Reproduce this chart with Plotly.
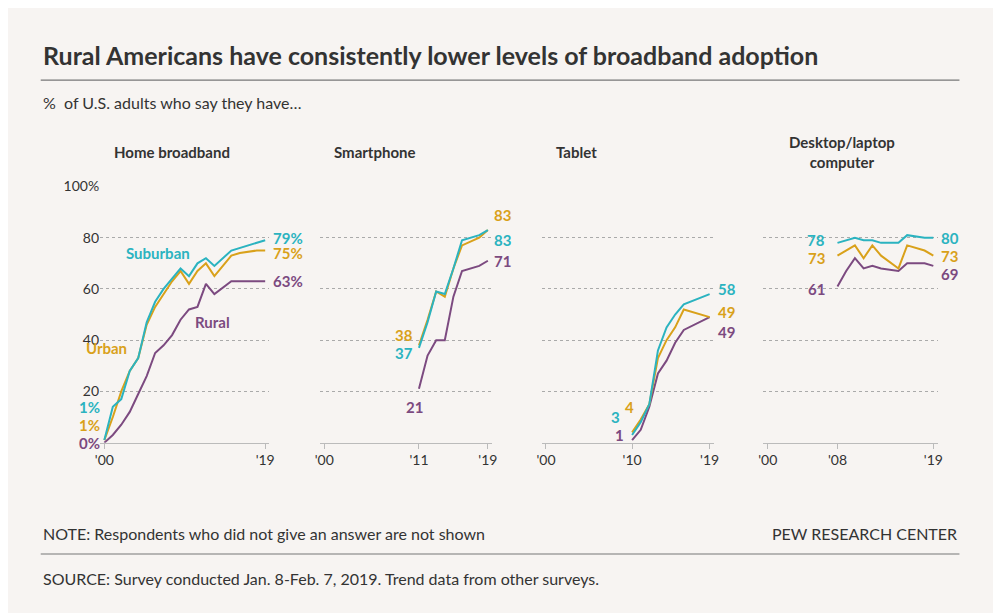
import plotly.graph_objects as go

W, H = 1001, 613
OX, OY = -8, -8  # page offset compensation
SUB, URB, RUR = "#2bb3c0", "#d9a11a", "#7c4a80"

bb_years = [2000,2001,2002,2003,2004,2005,2006,2007,2008,2009,2010,2011,2012,2013,2015,2016,2018,2019]
bb_sub = [1,14,17,28,33,47,55,60,64,68,65,70,72,69,75,76,78,79]
bb_urb = [1,10,20,28,33,46,53,58,63,67,62,67,70,65,73,74,75,75]
bb_rur = [0,3,7,12,19,26,35,38,42,48,52,53,62,58,63,63,63,63]

sp_years = [2011,2012,2013,2014,2015,2016,2018,2019]
sp_sub = [37,47,59,58,68,79,81,83]
sp_urb = [38,48,59,57,68,77,80,83]
sp_rur = [21,34,40,40,57,67,69,71]

tb_years = [2010,2011,2012,2013,2014,2015,2016,2019]
tb_sub = [3,8,15,36,45,50,54,58]
tb_urb = [4,9,15,33,40,45,52,49]
tb_rur = [1,5,14,27,32,39,44,49]

dl_years = [2008,2009,2010,2011,2012,2013,2015,2016,2018,2019]
dl_sub = [78,79,80,79,79,78,78,81,80,80]
dl_urb = [73,75,77,72,77,73,68,77,75,73]
dl_rur = [61,67,72,68,69,68,67,70,70,69]

panels = [
    ("Home broadband", bb_years, bb_sub, bb_urb, bb_rur, ["'00", "'19"], [2000, 2019], 100, 263),
    ("Smartphone", sp_years, sp_sub, sp_urb, sp_rur, ["'00", "'11", "'19"], [2000, 2011, 2019], 322, 488),
    ("Tablet", tb_years, tb_sub, tb_urb, tb_rur, ["'00", "'10", "'19"], [2000, 2010, 2019], 546, 712),
    ("Desktop/laptop<br>computer", dl_years, dl_sub, dl_urb, dl_rur, ["'00", "'08", "'19"], [2000, 2008, 2019], 770, 938),
]

def px(x): return (x + OX) / W
def py(y): return (H - (y + OY)) / H

fig = go.Figure()
FONT = "Lato"
anns, shapes = [], []
for i, (name, yrs, s, u, r, tt, tv, px0, px1) in enumerate(panels):
    n = "" if i == 0 else str(i+1)
    xa, ya = "x"+n, "y"+n
    for vals, c in [(r, RUR), (u, URB), (s, SUB)]:
        fig.add_trace(go.Scatter(x=yrs, y=vals, mode="lines", line=dict(color=c, width=2),
                                 xaxis=xa, yaxis=ya, showlegend=False, hoverinfo="skip"))
    fig.layout["xaxis"+n] = dict(domain=[px(px0-4), px(px1+4)], range=[1999.5, 2019.5], tickvals=tv, ticktext=tt,
                                 showgrid=False, zeroline=False, showline=True, linecolor="#bbbbbb",
                                 ticks="outside", ticklen=5, tickcolor="#bbbbbb",
                                 tickfont=dict(family=FONT, size=14, color="#333"), anchor=ya)
    fig.layout["yaxis"+n] = dict(domain=[py(440), py(180)], range=[0, 100], tickvals=[20,40,60,80,100],
                                 showgrid=True, gridcolor="#aaaaaa", griddash="dot", gridwidth=1,
                                 zeroline=False, showticklabels=(i == 0),
                                 ticktext=["20","40","60","80","100%"],
                                 tickfont=dict(family=FONT, size=14, color="#333"), anchor=xa)
    anns.append(dict(text="<b>"+name+"</b>", xref="paper", yref="paper", x=px(px0+8 if i < 3 else px0+20),
                     y=py(145 if i < 3 else 145), xanchor="left", yanchor="middle" if i < 3 else "middle",
                     showarrow=False, align="center" if i == 3 else "left",
                     font=dict(family=FONT, size=15, color="#333")))

    def lab(x, y, t, c, xanchor="left", xs=0):
        anns.append(dict(text="<b>"+t+"</b>", x=x, y=y, xref=xa, yref=ya, showarrow=False, xshift=xs,
                         xanchor=xanchor, yanchor="middle", font=dict(family=FONT, size=15, color=c)))
    if i == 0:
        lab(2019, 80, "79%", SUB, xs=6); lab(2019, 74, "75%", URB, xs=6); lab(2019, 63, "63%", RUR, xs=6)
        lab(2000, 14, "1%", SUB, "right", -2); lab(2000, 7, "1%", URB, "right", -2); lab(2000, 0, "0%", RUR, "right", -2)
        lab(2002.3, 74, "Suburban", SUB); lab(2000, 37, "Urban", URB, xs=-20); lab(2010.5, 47, "Rural", RUR)
    elif i == 1:
        lab(2019, 89, "83", URB, xs=4); lab(2019, 79, "83", SUB, xs=4); lab(2019, 71, "71", RUR, xs=4)
        lab(2011, 42, "38", URB, "right", -4); lab(2011, 35, "37", SUB, "right", -4); lab(2011, 14, "21", RUR, "right", 6)
    elif i == 2:
        lab(2019, 60, "58", SUB, xs=6); lab(2019, 51, "49", URB, xs=6); lab(2019, 43, "49", RUR, xs=6)
        lab(2010, 14, "4", URB, "right", 4); lab(2010, 10, "3", SUB, "right", -10); lab(2010, 3, "1", RUR, "right", -6)
    else:
        lab(2019, 80, "80", SUB, xs=6); lab(2019, 73, "73", URB, xs=6); lab(2019, 66, "69", RUR, xs=6)
        lab(2008, 79, "78", SUB, "right", -10); lab(2008, 72, "73", URB, "right", -10); lab(2008, 60, "61", RUR, "right", -10)

def text(t, x, y, size, anchor="left", bold=False):
    anns.append(dict(text=("<b>%s</b>" % t) if bold else t, x=px(x), y=py(y), xref="paper", yref="paper",
                     xanchor=anchor, yanchor="middle", showarrow=False, font=dict(family=FONT, size=size, color="#333")))

text("Rural Americans have consistently lower levels of broadband adoption", 36, 47, 25, bold=True)
text("%  of U.S. adults who say they have\u2026", 36, 95, 16)
text("NOTE: Respondents who did not give an answer are not shown", 36, 532, 16)
text("PEW RESEARCH CENTER", 964, 532, 16, anchor="right")
text("SOURCE: Survey conducted Jan. 8-Feb. 7, 2019. Trend data from other surveys.", 36, 578, 16)
for yy in (72, 553):
    shapes.append(dict(type="line", xref="paper", yref="paper", x0=px(36), x1=px(964), y0=py(yy), y1=py(yy),
                       line=dict(color="#777", width=1.2)))

fig.update_layout(width=W, height=H, margin=dict(l=0, r=0, t=0, b=0), paper_bgcolor="#f7f4f2",
                  plot_bgcolor="#f7f4f2", annotations=anns, shapes=shapes)
fig.write_html("out.html")
